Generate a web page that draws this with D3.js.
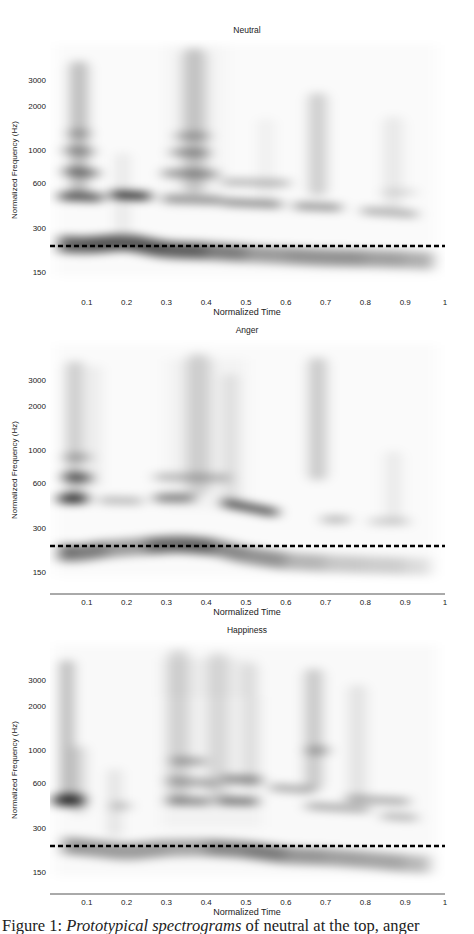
<!DOCTYPE html>
<html>
<head>
<meta charset="utf-8">
<script src="https://cdn.jsdelivr.net/npm/d3@7"></script>
<style>
  body { margin: 0; background: #fff; }
  text { font-family: "Liberation Sans", Arial, sans-serif; fill: #222; }
</style>
</head>
<body>
<div id="chart"></div>
<script>
/*
*   spectrograms: neutral / anger / happiness
*/

const panelTitles = ["Neutral", "Anger", "Happiness"];
const freqTicks = [150, 300, 600, 1000, 2000, 3000];
const timeTicks = [0.1, 0.2, 0.3, 0.4, 0.5, 0.6, 0.7, 0.8, 0.9, 1];
const refFreq = 225;

// pitch track: [time, freq, ink]
const neutralF0 = [[0.03,232,0.75],[0.1,228,0.8],[0.2,240,0.85],[0.3,212,0.8],[0.4,208,0.75],
  [0.5,200,0.5],[0.6,194,0.45],[0.7,188,0.6],[0.8,186,0.45],[0.9,182,0.45],[0.97,178,0.3]];
const angerF0 = [[0.03,205,0.6],[0.07,200,0.8],[0.15,215,0.45],[0.25,225,0.5],[0.33,232,0.95],
  [0.42,222,0.55],[0.5,195,0.6],[0.6,178,0.45],[0.7,172,0.25],[0.8,168,0.25],[0.9,165,0.2],[0.96,162,0.1]];
const happyF0 = [[0.04,228,0.6],[0.1,220,0.4],[0.2,205,0.55],[0.3,218,0.4],[0.4,220,0.45],
  [0.5,212,0.7],[0.6,195,0.55],[0.7,190,0.45],[0.8,182,0.45],[0.9,172,0.4],[0.96,168,0.25]];

// formant bands: [t0, t1, f0, f1, ink, thickness]
const neutralBands = [[0.04,0.13,490,480,0.75,9],[0.17,0.25,500,490,0.9,9],[0.3,0.43,470,460,0.5,8],
  [0.45,0.58,445,430,0.5,8],[0.63,0.73,420,410,0.45,8],[0.8,0.92,390,370,0.35,8],
  [0.05,0.12,720,700,0.6,8],[0.3,0.42,700,690,0.45,8],[0.45,0.6,610,600,0.3,8],
  [0.05,0.11,1000,980,0.45,7],[0.32,0.4,970,960,0.45,7],[0.33,0.4,1250,1250,0.35,7],
  [0.06,0.1,1300,1300,0.35,7],[0.85,0.92,520,520,0.15,6]];
const angerBands = [[0.04,0.09,470,470,0.9,10],[0.14,0.23,460,455,0.3,8],[0.28,0.36,475,475,0.55,9],
  [0.45,0.57,440,380,0.75,9],[0.05,0.1,660,650,0.75,9],[0.28,0.45,660,650,0.3,8],
  [0.7,0.75,340,340,0.3,8],[0.82,0.9,330,330,0.2,8],[0.05,0.1,900,900,0.35,7]];
const happyBands = [[0.03,0.08,460,460,0.95,12],[0.31,0.4,455,450,0.5,8],[0.44,0.52,455,450,0.6,8],
  [0.31,0.42,620,600,0.35,8],[0.45,0.53,640,630,0.5,8],[0.57,0.66,560,540,0.35,8],
  [0.66,0.8,420,400,0.35,8],[0.76,0.9,470,450,0.35,8],[0.85,0.92,360,350,0.3,8],
  [0.32,0.39,850,840,0.4,7],[0.17,0.2,420,420,0.25,8],[0.66,0.7,1000,1000,0.35,8]];

// vertical bursts: [time, fLow, fHigh, ink, width]
const neutralBursts = [[0.08,550,3600,0.28,16],[0.37,600,4200,0.22,22],[0.68,550,2200,0.2,16],
  [0.19,300,900,0.1,10],[0.87,450,1500,0.08,18],[0.55,500,1500,0.05,14]];
const angerBursts = [[0.07,500,3600,0.2,16],[0.38,600,3800,0.16,24],[0.46,500,3000,0.1,14],
  [0.68,700,3800,0.22,16],[0.87,350,900,0.08,14],[0.12,600,3500,0.08,10]];
const happyBursts = [[0.05,500,3800,0.35,10],[0.08,400,1000,0.2,10],[0.17,280,700,0.12,10],
  [0.33,500,4200,0.15,20],[0.43,500,4000,0.12,20],[0.51,600,3500,0.1,14],
  [0.67,600,3200,0.22,16],[0.78,500,2500,0.1,16]];

// light haze blocks: [t0, t1, fLow, fHigh, ink]
const neutralHaze = [[0.02,0.98,140,5200,0.02],[0.3,0.45,400,5200,0.025]];
const angerHaze = [[0.02,0.98,140,5200,0.02],[0.3,0.5,400,4200,0.03]];
const happyHaze = [[0.02,0.98,140,5200,0.025],[0.29,0.52,2300,4200,0.05],[0.29,0.54,300,2300,0.03]];

const panels = [
  { f0: neutralF0, bands: neutralBands, bursts: neutralBursts, haze: neutralHaze, axis: false },
  { f0: angerF0, bands: angerBands, bursts: angerBursts, haze: angerHaze, axis: true },
  { f0: happyF0, bands: happyBands, bursts: happyBursts, haze: happyHaze, axis: true }
];

const width = 474, height = 934;
const svg = d3.select("#chart").append("svg").attr("width", width).attr("height", height);

const defs = svg.append("defs");
defs.append("filter").attr("id", "blur").attr("x", "-30%").attr("y", "-30%")
  .attr("width", "160%").attr("height", "160%")
  .append("feGaussianBlur").attr("stdDeviation", "7 4.5");

const x = d3.scaleLinear().domain([0, 1]).range([47, 445]);

panels.forEach((p, i) => {
  const off = i * 300;
  const y = d3.scaleLog().domain([150, 3000]).range([272 + off, 80 + off]);
  const top = i === 0 ? 40 : 340 + (i - 1) * 300;
  const bottom = 282 + off + (i === 0 ? 0 : 12);

  defs.append("clipPath").attr("id", "clip" + i)
    .append("rect").attr("x", 50).attr("y", top).attr("width", 395).attr("height", bottom - top);

  const g = svg.append("g").attr("clip-path", `url(#clip${i})`)
    .append("g").attr("filter", "url(#blur)");

  g.selectAll(".haze").data(p.haze).enter().append("rect")
    .attr("x", d => x(d[0])).attr("width", d => x(d[1]) - x(d[0]))
    .attr("y", d => y(d[3])).attr("height", d => y(d[2]) - y(d[3]))
    .attr("fill", "#000").attr("fill-opacity", d => d[4]);

  g.selectAll(".burst").data(p.bursts).enter().append("line")
    .attr("x1", d => x(d[0])).attr("x2", d => x(d[0]))
    .attr("y1", d => y(d[1])).attr("y2", d => y(d[2]))
    .attr("stroke", "#000").attr("stroke-opacity", d => d[3])
    .attr("stroke-width", d => d[4]).attr("stroke-linecap", "round");

  g.selectAll(".band").data(p.bands).enter().append("line")
    .attr("x1", d => x(d[0])).attr("x2", d => x(d[1]))
    .attr("y1", d => y(d[2])).attr("y2", d => y(d[3]))
    .attr("stroke", "#000").attr("stroke-opacity", d => d[4] * 0.85)
    .attr("stroke-width", d => d[5]).attr("stroke-linecap", "round");

  const segs = d3.pairs(p.f0);
  g.selectAll(".f0").data(segs).enter().append("line")
    .attr("x1", d => x(d[0][0])).attr("x2", d => x(d[1][0]))
    .attr("y1", d => y(d[0][1])).attr("y2", d => y(d[1][1]))
    .attr("stroke", "#000").attr("stroke-opacity", d => (d[0][2] + d[1][2]) / 2 * 0.8)
    .attr("stroke-width", 17);

  // reference line
  svg.append("line")
    .attr("x1", 50).attr("x2", 445)
    .attr("y1", y(refFreq)).attr("y2", y(refFreq))
    .attr("stroke", "#000").attr("stroke-width", 2.3).attr("stroke-dasharray", "5,3");

  // title
  svg.append("text").attr("x", 247).attr("y", 33 + off)
    .attr("text-anchor", "middle").style("font-size", "8.5px").text(panelTitles[i]);

  // y ticks
  svg.selectAll(".yt" + i).data(freqTicks).enter().append("text")
    .attr("x", 46).attr("y", d => y(d) + 3)
    .attr("text-anchor", "end").style("font-size", "8px").text(d => d);

  svg.append("text")
    .attr("transform", `translate(17, ${170 + off}) rotate(-90)`)
    .attr("text-anchor", "middle").style("font-size", "8px").text("Normalized Frequency (Hz)");

  // x axis
  const axisY = 293 + off;
  if (p.axis) {
    svg.append("line").attr("x1", 50).attr("x2", 445).attr("y1", axisY + 1).attr("y2", axisY + 1)
      .attr("stroke", "#555").attr("stroke-width", 1);
  }
  svg.selectAll(".xt" + i).data(timeTicks).enter().append("text")
    .attr("x", d => x(d)).attr("y", axisY + 12)
    .attr("text-anchor", "middle").style("font-size", "8px").text(d => d);

  svg.append("text").attr("x", 247).attr("y", axisY + 22)
    .attr("text-anchor", "middle").style("font-size", "9px").text("Normalized Time");
});

// caption
const cap = svg.append("text").attr("x", 2).attr("y", 931)
  .style("font-family", "'Liberation Serif', 'Times New Roman', serif").style("font-size", "16.5px");
cap.append("tspan").text("Figure 1: ");
cap.append("tspan").style("font-style", "italic").text("Prototypical spectrograms");
cap.append("tspan").text(" of neutral at the top, anger");
</script>
</body>
</html>
